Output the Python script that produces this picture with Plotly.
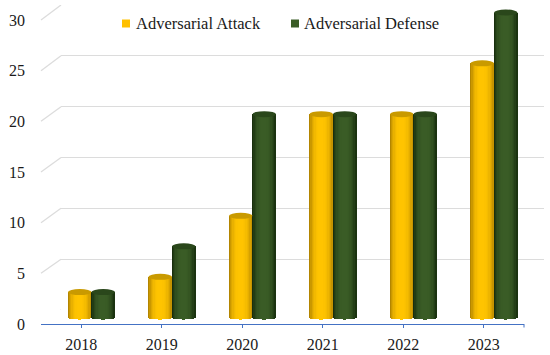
import plotly.graph_objects as go

years = ["2018", "2019", "2020", "2021", "2022", "2023"]
attack = [2.5, 4, 10, 20, 20, 25]
defense = [2.5, 7, 20, 20, 20, 30]
y_ticks = [0, 5, 10, 15, 20, 25, 30]
name_a = "Adversarial Attack"
name_d = "Adversarial Defense"

W, H = 550, 355
FONT = "Liberation Serif"
TXT = "#1a1a1a"
GRID = "#DCDCDC"
BLUE = "#4472C4"

def fx(p): return p / W
def fy(p): return 1 - p / H

# layout constants in pixels
front_l, front_r, front_0, front_30 = 41, 524, 324, 20
back_l, back_r, back_0, back_30 = 61, 544, 310, 5
bar_0, bar_30 = 317.5, 12.5
band = (front_r - front_l) / 6
first_c = 91.5
scale = (bar_0 - bar_30) / 30
cyl_w = 23.5 / band
ry = 3.0
ry_bottom = 2.0
N = 18

def mix(c1, c2, k):
    return "rgb(%d,%d,%d)" % tuple(round(a + (b - a) * k) for a, b in zip(c1, c2))

def shade(edge_l, mid, edge_r, t):
    if t < 0:
        return mix(mid, edge_l, min(1, (abs(t) / 0.95) ** 2.8))
    return mix(mid, edge_r, min(1, (abs(t) / 0.95) ** 2.8))

fig = go.Figure()

fig.add_trace(go.Scatter(x=[0], y=[0], xaxis="x", yaxis="y", mode="markers",
                         marker=dict(opacity=0), showlegend=False, hoverinfo="skip"))
fig.add_trace(go.Scatter(x=years, y=[0] * 6, xaxis="x2", yaxis="y2", mode="markers",
                         marker=dict(opacity=0), showlegend=False, hoverinfo="skip"))

series = [
    (name_a, attack, -cyl_w, (178, 132, 0), (255, 196, 0), (196, 146, 0), "#C99A00"),
    (name_d, defense, 0.0, (24, 46, 14), (58, 92, 38), (26, 50, 16), "#2A471B"),
]
shapes = []

for name, vals, off, el, mid, er, cap in series:
    for k in range(N):
        t = -1 + (2 * k + 1) / N
        sw = cyl_w / N
        d = (ry_bottom / scale) * (1 - t * t) ** 0.5
        fig.add_trace(go.Bar(
            x=years,
            y=[v + d for v in vals],
            base=[-d] * len(vals),
            offset=off + k * sw,
            width=sw * 1.12,
            xaxis="x3", yaxis="y3",
            marker=dict(color=shade(el, mid, er, t), line=dict(width=0)),
            name=name, showlegend=False, hoverinfo="skip",
        ))
    for i, v in enumerate(vals):
        shapes.append(dict(type="circle", xref="x3", yref="y3",
                           x0=i + off, x1=i + off + cyl_w,
                           y0=v - ry / scale, y1=v + ry / scale,
                           fillcolor=cap, line=dict(width=0), layer="above"))

# diagonal wall lines from the front axis to the back wall
front_s = (front_0 - front_30) / 30
back_s = (back_0 - back_30) / 30
for v in y_ticks:
    p_front = front_0 - front_s * v
    shapes.append(dict(type="line", xref="paper", yref="y",
                       x0=fx(front_l), x1=fx(back_l),
                       y0=(back_0 - p_front) / back_s, y1=v,
                       line=dict(color=GRID, width=1.3), layer="below"))

# closing tick at the right end of the front axis
shapes.append(dict(type="line", xref="paper", yref="paper",
                   x0=fx(front_r), x1=fx(front_r), y0=fy(front_0), y1=fy(front_0 + 3.5),
                   line=dict(color=BLUE, width=1), layer="above"))

# legend
legend_items = [(name_a, 122, 134, "#FFC000"), (name_d, 291, 302, "#3A5C26")]
annots = []
for name, mx, tx, col in legend_items:
    shapes.append(dict(type="rect", xref="paper", yref="paper",
                       x0=fx(mx), x1=fx(mx + 8), y0=fy(27.5), y1=fy(19.5),
                       fillcolor=col, line=dict(width=0), layer="above"))
    annots.append(dict(text=name, xref="paper", yref="paper", x=fx(tx), y=fy(23),
                       xanchor="left", yanchor="middle", showarrow=False,
                       font=dict(family=FONT, size=16.5, color=TXT)))

hidden = dict(visible=False, showgrid=False, zeroline=False, automargin=False)

fig.update_layout(
    width=W, height=H, autosize=False,
    margin=dict(l=0, r=0, t=0, b=0),
    paper_bgcolor="white", plot_bgcolor="rgba(0,0,0,0)",
    showlegend=False, barmode="overlay", bargap=0,
    shapes=shapes, annotations=annots,
    xaxis=dict(domain=[fx(back_l), fx(back_r)], range=[0, 1], anchor="y", **hidden),
    yaxis=dict(domain=[fy(back_0), fy(back_30)], range=[0, 30], anchor="x", automargin=False,
               tickvals=y_ticks, showgrid=True, gridcolor=GRID, gridwidth=1.3,
               zeroline=False, showticklabels=False, showline=False, ticks=""),
    xaxis2=dict(domain=[fx(front_l), fx(front_r)], range=[-0.5, 5.5], anchor="y2", automargin=False,
                type="category", categoryarray=years, tickvals=years, ticktext=years,
                showgrid=False, zeroline=False, showline=True, linecolor=BLUE, linewidth=1.3,
                ticks="outside", ticklen=3, tickcolor=BLUE, tickwidth=1,
                ticklabelstandoff=3,
                tickfont=dict(family=FONT, size=16, color=TXT)),
    yaxis2=dict(domain=[fy(front_0), fy(front_30)], range=[0, 30], anchor="x2", automargin=False,
                tickvals=y_ticks, showgrid=False, zeroline=False, showline=False,
                ticks="", ticklabelstandoff=15,
                tickfont=dict(family=FONT, size=16, color=TXT)),
    xaxis3=dict(domain=[0, 1], range=[-first_c / band, (W - first_c) / band], anchor="y3",
                type="category", categoryarray=years, **hidden),
    yaxis3=dict(domain=[0, 1], range=[-(H - bar_0) / scale, bar_0 / scale], anchor="x3", **hidden),
)

fig.write_html("out.html", config=dict(displayModeBar=False),
               post_script="document.body.style.margin='0';")
